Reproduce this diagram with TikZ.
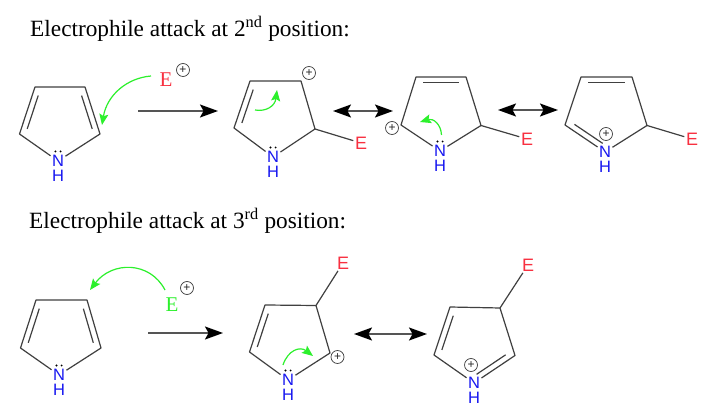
\documentclass[tikz,border=0pt]{standalone}
\usepackage{fontspec}
\setmainfont{Liberation Serif}
\setsansfont{Liberation Sans}
\usetikzlibrary{arrows.meta,calc}
\definecolor{bondgray}{HTML}{404040}
\definecolor{arrowgray}{HTML}{555555}
\definecolor{curlygreen}{HTML}{2CF02C}
\definecolor{labelred}{HTML}{F83040}
\definecolor{labelblue}{HTML}{1818F0}
\tikzset{
  bond/.style={draw=bondgray,line width=1.2pt,line join=round},
  reaction/.style={draw=arrowgray,line width=1.6pt,-{Stealth[length=18pt,width=13pt,inset=3.5pt,color=black]}},
  resonance/.style={draw=arrowgray,line width=1.6pt,{Stealth[length=18pt,width=13pt,inset=3.5pt,color=black]}-{Stealth[length=18pt,width=13pt,inset=3.5pt,color=black]}},
  curly/.style={draw=curlygreen,line width=1.2pt,-{Stealth[length=11pt,width=9pt,inset=2pt]}},
  title/.style={anchor=base west,inner sep=0pt,font=\fontsize{23.3}{26}\selectfont},
  atomN/.style={text=labelblue,inner sep=0pt,outer sep=1.5pt,font=\sffamily\fontsize{16.5}{17}\selectfont},
  atomE/.style={text=labelred,inner sep=1.5pt,font=\sffamily\fontsize{18}{18}\selectfont},
  reagent/.style={inner sep=1.5pt,font=\fontsize{21}{21}\selectfont},
  charge/.style={circle,draw=bondgray,line width=.7pt,minimum size=13pt,inner sep=0pt,text=black!85,font=\sffamily\fontsize{12}{12}\selectfont},
  dot/.style={circle,fill=black,inner sep=0pt,minimum size=2.2pt}
}
% ring: prefix, four carbons, N centre
\newcommand{\ringatoms}[6]{%
  \coordinate (#1a) at (#2);
  \coordinate (#1b) at (#3);
  \coordinate (#1c) at (#4);
  \coordinate (#1d) at (#5);
  \node[atomN] (#1N) at (#6) {N};
  \node[atomN] (#1H) at ($(#1N)+(0,14.5)$) {H};
  \coordinate (#1o) at (barycentric cs:#1a=1,#1b=1,#1c=1,#1d=1,#1N=1);
  \draw[bond] (#1N) -- (#1a) -- (#1b) -- (#1c) -- (#1d) -- (#1N);
}
\newcommand{\innerbond}[3]{%
  \draw[bond,shorten <=3pt,shorten >=3pt] ($(#2)!.17!(#1o)$) -- ($(#3)!.17!(#1o)$);
}
\newcommand{\lonepair}[1]{%
  \node[dot] at ($(#1N)+(-2.6,-9.5)$) {};
  \node[dot] at ($(#1N)+(2.6,-9.5)$) {};
}
\begin{document}
\begin{tikzpicture}[x=1pt,y=-1pt]
\useasboundingbox[fill=white] (0,0) rectangle (709,419);
\node[title] (t1) at (30,37) {Electrophile attack at 2\textsuperscript{nd} position:};
\node[title] (t2) at (29,229) {Electrophile attack at 3\textsuperscript{rd} position:};

% top row
\ringatoms{A}{19.5,134}{35,87}{85,87}{100,134}{58,161}
\innerbond{A}{Aa}{Ab}\innerbond{A}{Ac}{Ad}\lonepair{A}
\node[reagent,text=labelred] (Ae) at (166,80) {E};
\node[charge] (Ap) at (183,70) {+};
\coordinate (As) at (151,76); \coordinate (At) at (102,125);
\draw[curly] (As) .. controls (127,78) and (107,95) .. (At);

\coordinate (R1s) at (138,111); \coordinate (R1e) at (218,111);
\draw[reaction] (R1s) -- (R1e);

\ringatoms{B}{234,128}{250,81}{301,81}{315,129}{273,157}
\innerbond{B}{Ba}{Bb}\lonepair{B}
\node[atomE] (Be) at (361,143) {E};
\draw[bond] (Bd) -- (Be);
\node[charge] (Bp) at (309,73) {+};
\coordinate (Bs) at (255,110); \coordinate (Bt) at (277,90);
\draw[curly] (Bs) .. controls (266,112) and (275,106) .. (Bt);

\coordinate (R2s) at (333,111); \coordinate (R2e) at (393,111);
\draw[resonance] (R2s) -- (R2e);

\ringatoms{C}{401,125}{416,77}{466,77}{481,125.5}{440,151}
\innerbond{C}{Cb}{Cc}\lonepair{C}
\node[atomE] (Ce) at (527,139) {E};
\draw[bond] (Cd) -- (Ce);
\node[charge] (Cp) at (392,128) {+};
\coordinate (Cs) at (441.5,135); \coordinate (Ct) at (420,122);
\draw[curly] (Cs) .. controls (441,124) and (433,118) .. (Ct);

\coordinate (R3s) at (498,110); \coordinate (R3e) at (558,110);
\draw[resonance] (R3s) -- (R3e);

\ringatoms{D}{565,125}{581,77}{632,77}{647,125.5}{605,152}
\innerbond{D}{Db}{Dc}\innerbond{D}{Da}{DN}
\node[atomE] (De) at (692,139) {E};
\draw[bond] (Dd) -- (De);
\node[charge] (Dp) at (606,134) {+};

% bottom row
\ringatoms{F}{20.5,348}{36,300}{87,300}{101,348}{59,375}
\innerbond{F}{Fa}{Fb}\innerbond{F}{Fc}{Fd}\lonepair{F}
\node[reagent,text=curlygreen] (Fe) at (172,305) {E};
\node[charge] (Fp) at (187,288) {+};
\coordinate (Fs) at (165,290); \coordinate (Ft) at (90,290);
\draw[curly] (Fs) .. controls (150,261) and (112,261) .. (Ft);

\coordinate (R4s) at (148,333); \coordinate (R4e) at (223,333);
\draw[reaction] (R4s) -- (R4e);

\ringatoms{G}{249.5,352}{265,305}{316,305.5}{330,353}{288,380}
\innerbond{G}{Ga}{Gb}\lonepair{G}
\node[atomE] (Ge) at (343,263) {E};
\draw[bond] (Gc) -- (Ge);
\node[charge] (Gp) at (337.5,357) {+};
\coordinate (Gs) at (283,365); \coordinate (Gt) at (313,356);
\draw[curly] (Gs) .. controls (288,350) and (300,346) .. (Gt);

\coordinate (R5s) at (354,334); \coordinate (R5e) at (427,334);
\draw[resonance] (R5s) -- (R5e);

\ringatoms{K}{434,355}{450,307}{500,308}{515,355.5}{474,383}
\innerbond{K}{Ka}{Kb}\innerbond{K}{Kd}{KN}
\node[atomE] (Ke) at (528,265) {E};
\draw[bond] (Kc) -- (Ke);
\node[charge] (Kp) at (471,365) {+};
\end{tikzpicture}
\end{document}
